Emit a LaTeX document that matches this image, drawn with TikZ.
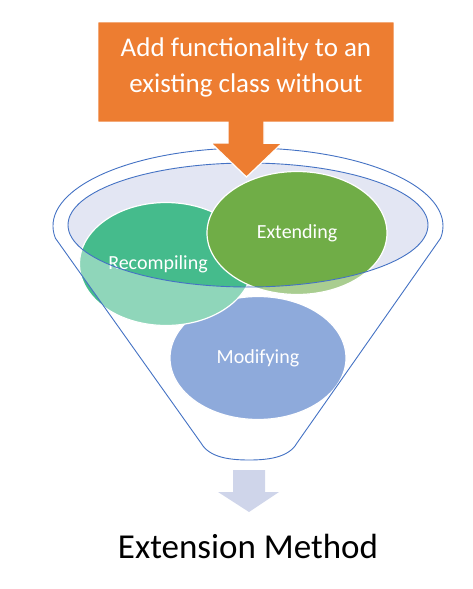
\documentclass[tikz,border=0pt]{standalone}
\usepackage{fontspec}
\setmainfont{Carlito}
\usetikzlibrary{
  shapes.geometric
}
\definecolor{calloutorange}{HTML}{ED7D31}
\definecolor{rimblue}{HTML}{4472C4}
\definecolor{rimfill}{HTML}{E3E6F3}
\definecolor{recompteal}{HTML}{45BB8C}
\definecolor{extgreen}{HTML}{70AD47}
\definecolor{modblue}{HTML}{4472C4}
\definecolor{palearrow}{HTML}{CFD5EA}
\tikzset{
  blob/.style={
    ellipse,
    draw=white,
    line width=1.2pt,
    inner sep=0pt,
    minimum width=176pt,
    minimum height=123pt,
    text=white,
    font=\fontsize{20}{24}\selectfont
  },
  blobtext/.style={text=white, font=\fontsize{20}{24}\selectfont},
  rimline/.style={draw=rimblue, line width=0.9pt},
  callout/.style={fill=calloutorange, draw=white, line width=1.2pt},
  calloutbox/.style={
    minimum width=296pt,
    minimum height=100pt,
    align=center,
    text=white,
    font=\fontsize{27}{36}\selectfont
  }
}

\begin{document}
\begin{tikzpicture}[x=1pt,y=-1pt]
  \useasboundingbox (0,0) rectangle (473,589);

  % funnel geometry
  \coordinate (rimL) at (55.4,238.2);
  \coordinate (baseR) at (297,443);
  \coordinate (baseC) at (249,460);
  \coordinate (baseL) at (201,443);

  % opening of the funnel
  \fill[rimfill] (248,225) ellipse [x radius=180, y radius=62];

  % the three ideas
  \node[blob, fill=modblue] (modifying) at (258,358) {Modifying};
  \node[blob, fill=recompteal, minimum width=173pt,
    label={[blobtext, xshift=-8pt]center:Recompiling}] (recompiling) at (166,264) {};
  \node[blob, fill=extgreen, minimum width=180pt] (extending) at (297,233) {Extending};

  % front of the funnel
  \fill[white, opacity=0.4, even odd rule]
    (rimL) arc [start angle=171, end angle=369, x radius=195, y radius=78]
    -- (baseR) .. controls +(-8,14) and +(21,0) .. (baseC)
    .. controls +(-21,0) and +(8,14) .. (baseL) -- cycle
    (248,225) ellipse [x radius=180, y radius=62];
  \draw[rimline]
    (rimL) arc [start angle=171, end angle=369, x radius=195, y radius=78]
    -- (baseR) .. controls +(-8,14) and +(21,0) .. (baseC)
    .. controls +(-21,0) and +(8,14) .. (baseL) -- cycle;
  \draw[rimline] (248,225) ellipse [x radius=180, y radius=62];

  % callout
  \node[calloutbox] (task) at (246,72) {};
  \coordinate (tip) at (246.5,177);
  \draw[callout] (task.north west) -- (task.north east) -- (task.south east)
    -- ([xshift=18pt]task.south) -- ++(0,21) -- ++(18,0) -- (tip)
    -- ++(-35.5,-34) -- ++(17,0) -- ([xshift=-18pt]task.south)
    -- (task.south west) -- cycle;
  \node[calloutbox] (tasktext) at ([yshift=5pt]task.center)
    {Add functionality to an\\existing class without};

  % result
  \coordinate (outTop) at (249,470);
  \fill[palearrow] ([xshift=-16pt]outTop) -- ++(32,0) -- ++(0,22) -- ++(14,0)
    -- (249,512) -- ++(-31,-20) -- ++(15,0) -- cycle;
  \node[font=\fontsize{35}{40}\selectfont] (method) at (248,546) {Extension Method};
\end{tikzpicture}
\end{document}
